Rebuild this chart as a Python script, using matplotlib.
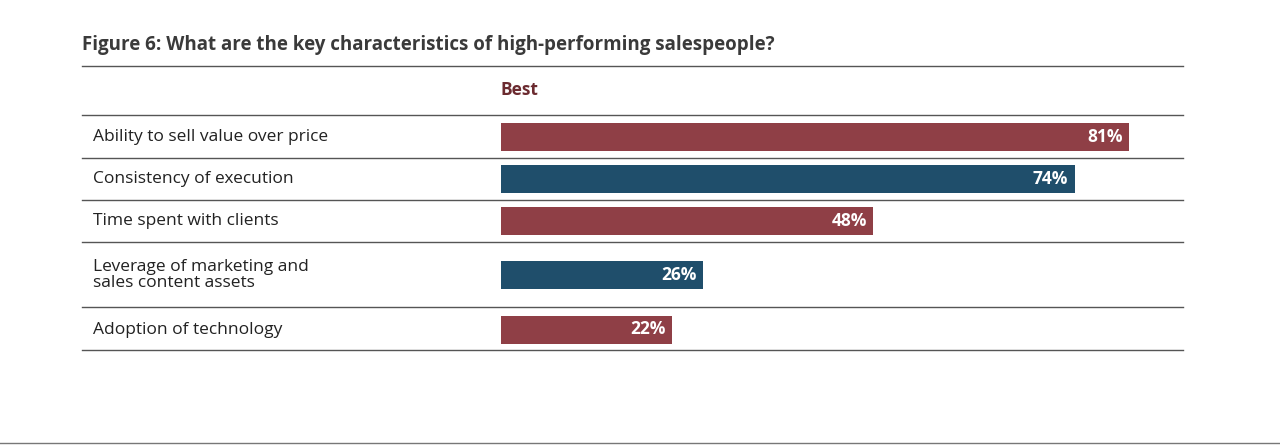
import matplotlib
matplotlib.use("Agg")
import matplotlib.pyplot as plt

categories = ["Ability to sell value over price", "Consistency of execution",
              "Time spent with clients", "Leverage of marketing and\nsales content assets",
              "Adoption of technology"]
values = [81, 74, 48, 26, 22]
colors = ["#8F3F46", "#1F4E6B", "#8F3F46", "#1F4E6B", "#8F3F46"]

W, H = 1280, 447
fig = plt.figure(figsize=(W/100, H/100), dpi=100)
bg = fig.add_axes([0, 0, 1, 1])
bg.set_xlim(0, W); bg.set_ylim(H, 0); bg.axis("off")

font = "Open Sans"
bg.text(82, 45, "Figure 6: What are the key characteristics of high-performing salespeople?",
        fontsize=13.5, fontweight="bold", color="#3a3a3a", va="center", family=font)
bg.plot([82, 1183], [66, 66], color="#555", lw=1)
bg.text(500, 90, "Best", fontsize=12.5, fontweight="bold", color="#6B2A2F", va="center", family=font)

centers = [137, 179, 221, 275, 329.5]
seps = [115, 158, 200, 242, 307, 350]
for s in seps:
    bg.plot([82, 1183], [s, s], color="#555", lw=1)
for c, lab in zip(centers, categories):
    bg.text(93, c, lab, fontsize=12.5, color="#222", va="center", family=font, linespacing=1.05)
bg.plot([0, W], [443, 443], color="#777", lw=1)

ax = fig.add_axes([501/W, 0, 775/W, 1])
ax.set_xlim(0, 100); ax.set_ylim(H, 0); ax.axis("off")
ax.barh(centers, values, height=28, color=colors, left=0)
for c, v in zip(centers, values):
    ax.text(v - 0.8, c, f"{v}%", ha="right", va="center", color="white",
            fontsize=12.5, fontweight="bold", family=font)

fig.savefig("out.png", dpi=100)
